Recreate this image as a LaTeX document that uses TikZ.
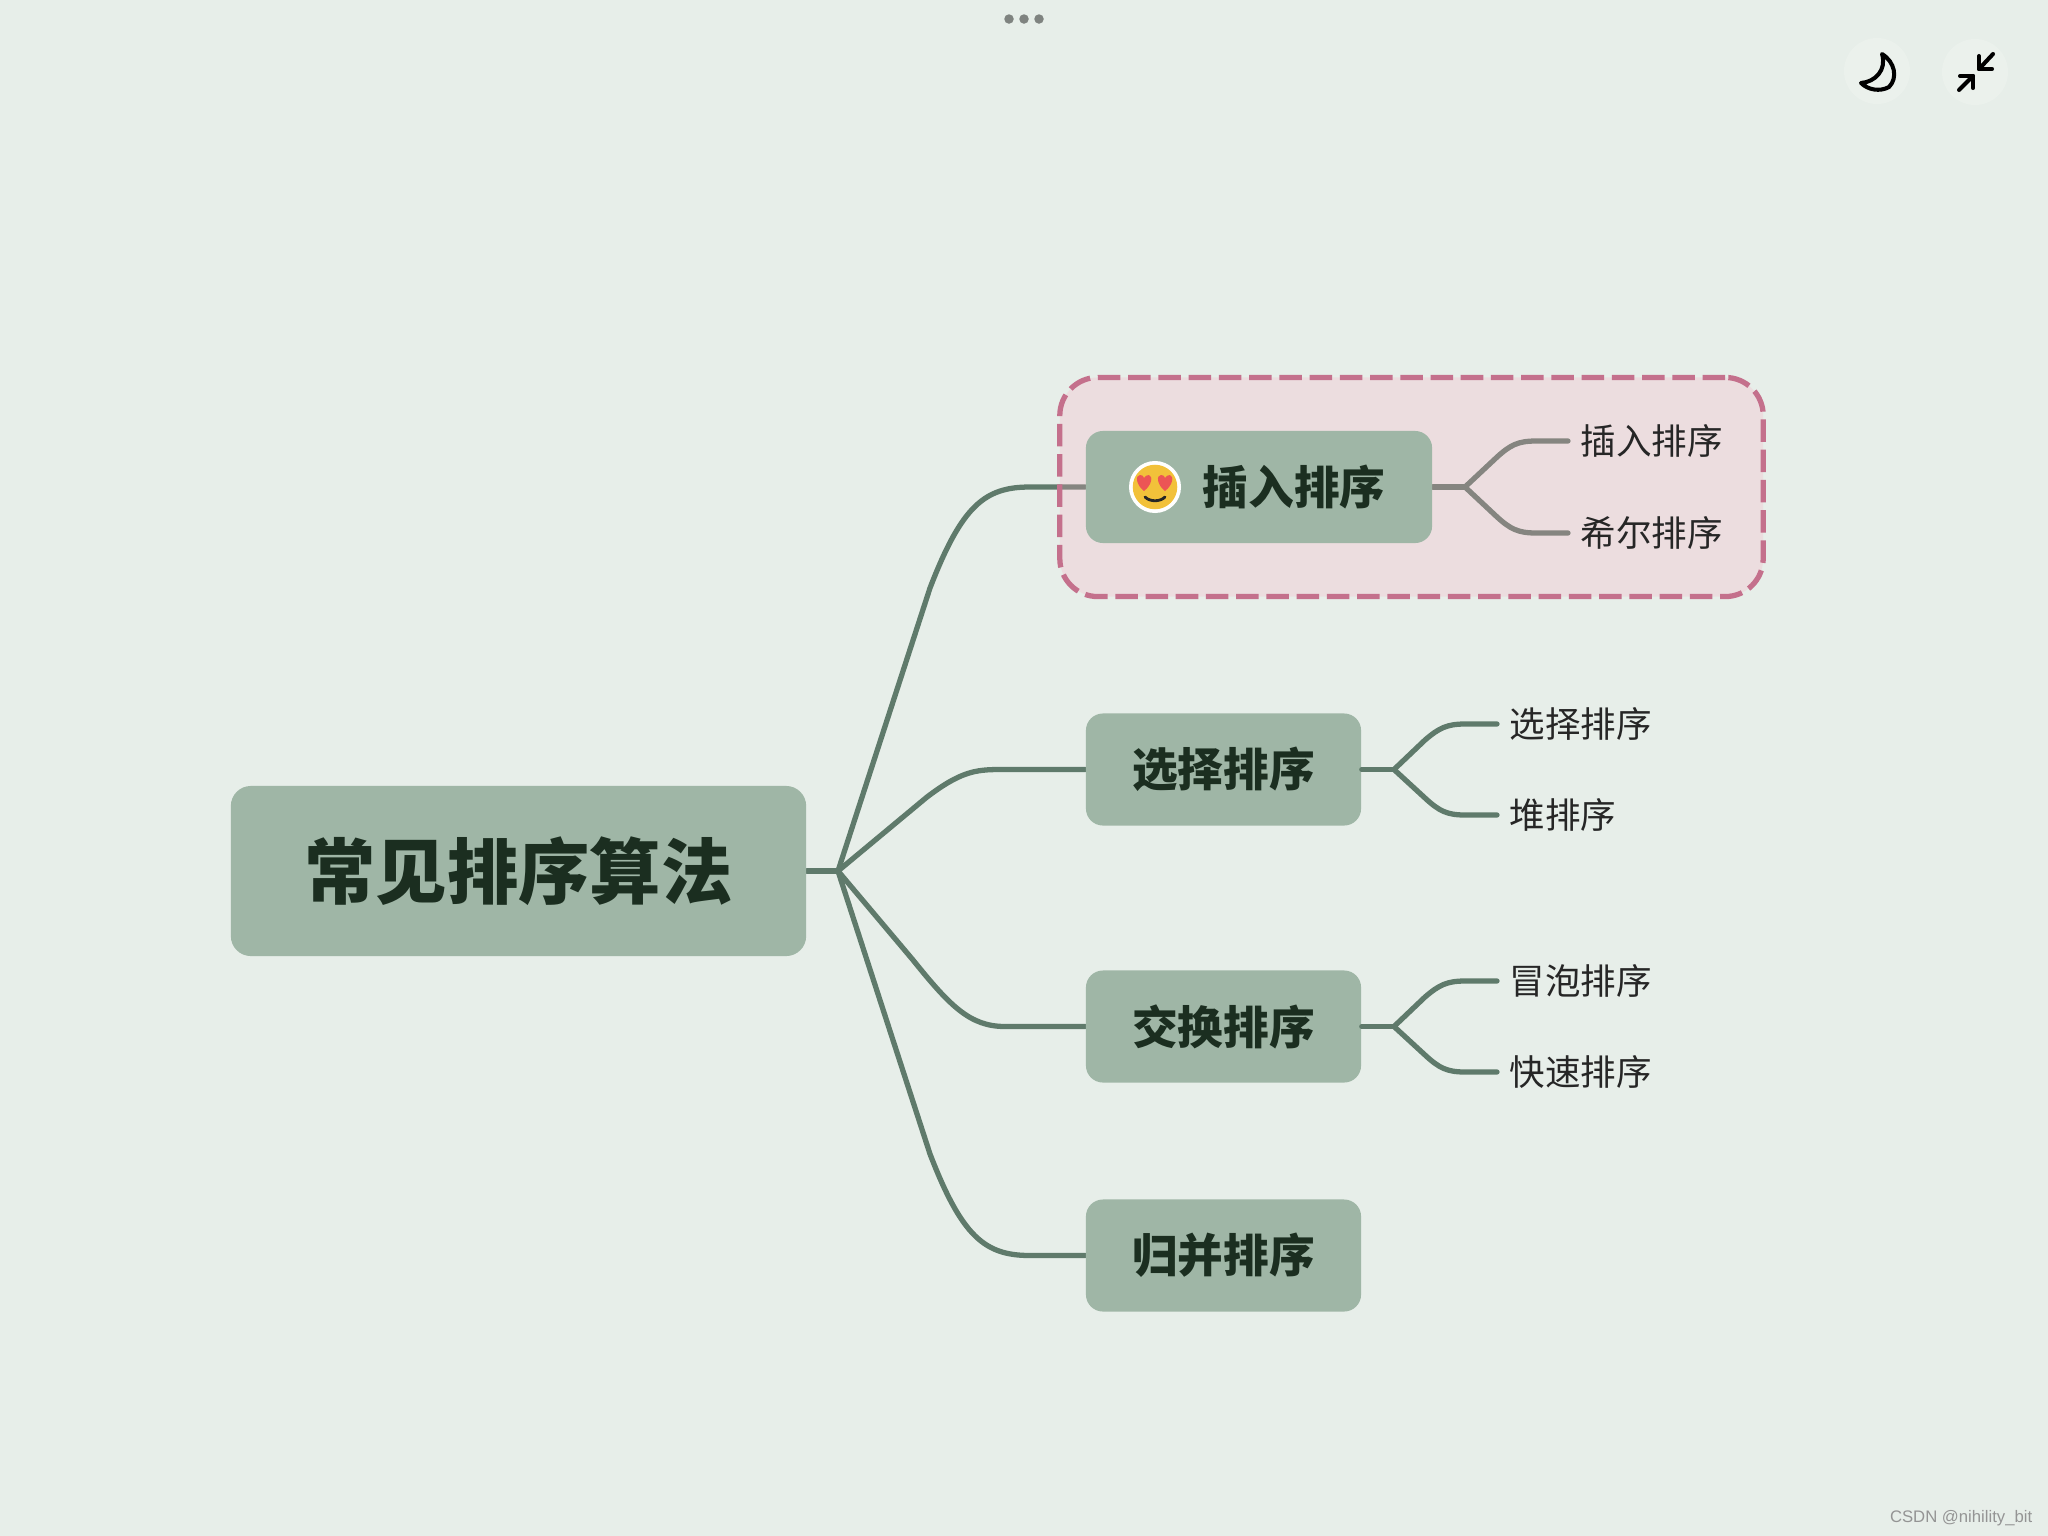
\documentclass[tikz,border=0pt]{standalone}
\usepackage{fontspec}
\newfontfamily\cjk{Noto Sans CJK SC}
\setsansfont{Liberation Sans}
\definecolor{bgcol}{HTML}{E7EEE9}
\definecolor{boxcol}{HTML}{9FB6A6}
\definecolor{inkcol}{HTML}{1B2E20}
\definecolor{linkcol}{HTML}{5F7A6B}
\definecolor{selfill}{HTML}{FFAAC3}
\definecolor{seldraw}{HTML}{C4708C}
\definecolor{facecol}{HTML}{F2C13A}
\definecolor{heartcol}{HTML}{EC5555}
\pgfdeclarelayer{back}
\pgfdeclarelayer{mid}
\pgfsetlayers{back,mid,main}
\tikzset{
rootbox/.style={fill=boxcol,rounded corners=0.2cm,minimum width=5.75cm,minimum height=1.7cm,inner sep=0pt,text=inkcol,font=\cjk\bfseries\fontsize{20.3}{24}\selectfont},
subbox/.style={fill=boxcol,rounded corners=0.17cm,minimum width=2.75cm,minimum height=1.12cm,inner sep=0pt,text=inkcol,font=\cjk\bfseries\fontsize{13}{16}\selectfont},
leaf/.style={anchor=west,inner sep=0pt,inner xsep=0.12cm,text=black!85,font=\cjk\fontsize{10.1}{12}\selectfont},
link/.style={draw=linkcol,line width=1.5pt,line cap=round,line join=round},
icon/.style={draw=black,line width=1.15pt,line cap=round,line join=round},
dot/.style={circle,fill=black!45!bgcol,minimum size=0.095cm,inner sep=0pt},
round btn/.style={circle,fill=white!15!bgcol,minimum size=0.66cm,inner sep=0pt},
}
\begin{document}
\begin{tikzpicture}[x=0.01cm,y=-0.01cm]
\useasboundingbox (0,0) rectangle (2048,1536);
\begin{pgfonlayer}{back}
\fill [bgcol] (0,0) rectangle (2048,1536);
\end{pgfonlayer}

\node [dot] (dota) at (1009,19) {};
\node [dot] (dotb) at (1024,19) {};
\node [dot] (dotc) at (1039,19) {};

\node [round btn] (moonbtn) at (1877,71) {};
\node [round btn] (shrinkbtn) at (1975,72) {};
\draw [icon] (1882,54) .. controls (1895,62) and (1898,78) .. (1889,87) .. controls (1880,92) and (1868,90) .. (1861,83) .. controls (1875,82) and (1887,70) .. (1882,54) -- cycle;
\draw [icon] (1993,54)--(1979,69);
\draw [icon] (1979,56)--(1979,69)--(1992,69);
\draw [icon] (1959,90)--(1973,76);
\draw [icon] (1960,76)--(1973,76)--(1973,88);

\begin{pgfonlayer}{mid}
\node [draw=seldraw,fill=selfill,fill opacity=0.24,draw opacity=1,line width=1.5pt,dash pattern=on 6.4pt off 2.2pt,rounded corners=0.38cm,minimum width=7.03cm,minimum height=2.19cm,inner sep=0pt] (selbox) at (1411.5,487) {};
\end{pgfonlayer}

\node [rootbox] (root) at (518.5,871) {常见排序算法};
\node [subbox,minimum width=3.46cm] (insert) at (1259,487) {\hspace*{0.7cm}插入排序};
\node [subbox] (select) at (1223.5,769.5) {选择排序};
\node [subbox] (swap) at (1223.5,1026.5) {交换排序};
\node [subbox] (merge) at (1223.5,1255.5) {归并排序};

\node [leaf] (inserta) at (1568,441) {插入排序};
\node [leaf] (insertb) at (1568,533) {希尔排序};
\node [leaf] (selecta) at (1497,724) {选择排序};
\node [leaf] (selectb) at (1497,815) {堆排序};
\node [leaf] (swapa) at (1497,981) {冒泡排序};
\node [leaf] (swapb) at (1497,1072) {快速排序};

\coordinate (rootj) at (838,871);
\coordinate (insertj) at (1465,487);
\coordinate (selectj) at (1394,769.5);
\coordinate (swapj) at (1394,1026.5);

\begin{pgfonlayer}{back}
\draw [link] (root.east)--(rootj);
\draw [link] (rootj)--(930,588) .. controls (962,505) and (985,487) .. (1030,487)--(insert.west);
\draw [link] (rootj)--(927,797) .. controls (960,772) and (975,769.5) .. (1000,769.5)--(select.west);
\draw [link] (rootj)--(913,960) .. controls (950,1006) and (970,1026.5) .. (1005,1026.5)--(swap.west);
\draw [link] (rootj)--(930,1154) .. controls (962,1237) and (985,1255.5) .. (1030,1255.5)--(merge.west);

\draw [link] (insert.east)--(insertj);
\draw [link] (insertj)--(1496,458) .. controls (1510,445) and (1518,441) .. (1536,441)--(inserta.west);
\draw [link] (insertj)--(1496,516) .. controls (1510,529) and (1518,533) .. (1536,533)--(insertb.west);
\end{pgfonlayer}

\draw [link] (select.east)--(selectj);
\draw [link] (selectj)--(1425,740) .. controls (1439,728) and (1447,724) .. (1465,724)--(selecta.west);
\draw [link] (selectj)--(1425,798) .. controls (1439,811) and (1447,815) .. (1465,815)--(selectb.west);
\draw [link] (swap.east)--(swapj);
\draw [link] (swapj)--(1425,997) .. controls (1439,985) and (1447,981) .. (1465,981)--(swapa.west);
\draw [link] (swapj)--(1425,1055) .. controls (1439,1068) and (1447,1072) .. (1465,1072)--(swapb.west);

\node [circle,fill=white,minimum size=0.52cm,inner sep=0pt] (faceout) at (1155,487) {};
\node [circle,fill=facecol,minimum size=0.445cm,inner sep=0pt] (face) at (1155,487) {};
\fill [heartcol] (1144,491) .. controls (1136,485) and (1135,475) .. (1140,475) .. controls (1142,475) and (1144,476) .. (1144,478) .. controls (1145,476) and (1147,475) .. (1149,475) .. controls (1153,476) and (1152,485) .. (1144,491) -- cycle;
\fill [heartcol] (1165,491) .. controls (1157,485) and (1156,475) .. (1161,475) .. controls (1163,475) and (1165,476) .. (1165,478) .. controls (1166,476) and (1168,475) .. (1170,475) .. controls (1174,476) and (1173,485) .. (1165,491) -- cycle;
\draw [line width=0.8pt,line cap=round,black!85] (1145,497) .. controls (1150,502) and (1160,502) .. (1165,497);

\node [anchor=east,inner sep=0pt,text=black!42,font=\sffamily\fontsize{4.75}{6}\selectfont] (mark) at (2033,1518) {CSDN @nihility\_bit};
\end{tikzpicture}
\end{document}
